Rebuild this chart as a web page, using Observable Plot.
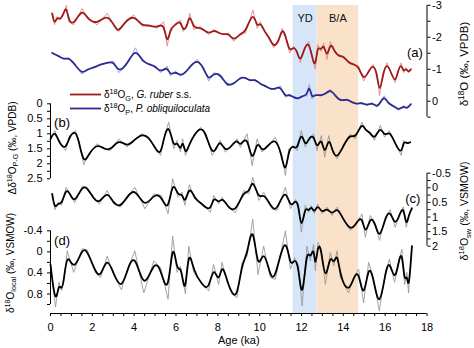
<!DOCTYPE html>
<html><head><meta charset="utf-8">
<script src="https://cdn.jsdelivr.net/npm/d3@7"></script>
<script src="https://cdn.jsdelivr.net/npm/@observablehq/plot@0.6"></script>
<style>
body{margin:0;background:#fff;}
#chart{position:relative;width:474px;height:348px;}
#chart svg{position:absolute;left:0;top:0;overflow:visible;}
</style></head><body><div id="chart"></div>
<script>
// ---- data: [age (ka), value] ----
const gRuber = [[0.08,-2.75],[0.19,-2.39],[0.32,-2.65],[0.44,-2.54],[0.61,-2.70],[0.76,-3.0],[0.87,-2.49],[1.11,-2.39],[1.51,-2.9],[1.75,-2.59],[2.23,-2.39],[2.71,-2.75],[3.11,-2.28],[3.26,-2.18],[3.58,-2.49],[3.98,-2.70],[4.38,-2.34],[4.70,-2.39],[5.10,-2.28],[5.41,-2.49],[5.58,-1.72],[5.73,-2.28],[5.97,-2.39],[6.21,-2.54],[6.34,-2.18],[6.53,-2.34],[6.66,-2.75],[6.85,-2.24],[7.17,-2.34],[7.56,-2.08],[7.80,-2.24],[8.04,-2.13],[8.28,-2.08],[8.52,-2.13],[8.76,-1.87],[9.08,-2.13],[9.32,-2.13],[9.68,-2.85],[9.88,-2.28],[10.03,-2.49],[10.22,-2.18],[10.43,-2.03],[10.67,-1.67],[10.91,-1.87],[11.07,-2.28],[11.23,-2.08],[11.43,-1.51],[11.62,-1.72],[11.79,-1.56],[11.94,-1.2],[12.14,-1.67],[12.34,-1.87],[12.50,-1.41],[12.66,-1.0],[12.77,-1.77],[12.93,-1.56],[13.06,-1.82],[13.22,-1.31],[13.38,-1.87],[13.57,-1.56],[13.77,-1.41],[14.01,-1.41],[14.25,-1.2],[14.49,-1.15],[14.73,-1.1],[14.97,-0.63],[15.21,-0.94],[15.42,-1.15],[15.61,-0.89],[15.73,-0.17],[15.90,-0.89],[16.09,-1.2],[16.28,-0.89],[16.48,-0.58],[16.59,-0.89],[16.76,-1.2],[16.88,-0.89],[16.99,-1.05],[17.12,-0.89],[17.23,-1.0]];
const pObliq = [[0.08,-1.51],[0.40,-1.41],[0.64,-1.31],[0.87,-1.36],[1.11,-1.2],[1.51,-0.84],[1.75,-1.0],[2.07,-1.05],[2.39,-1.15],[2.71,-1.2],[3.02,-1.25],[3.26,-0.89],[3.66,-1.15],[4.06,-1.67],[4.38,-1.25],[4.70,-1.15],[5.02,-1.1],[5.26,-0.89],[5.58,-1.1],[5.73,-0.79],[5.97,-0.94],[6.21,-0.79],[6.45,-0.89],[6.69,-1.1],[7.01,-1.31],[7.32,-1.05],[7.56,-0.63],[7.80,-0.89],[8.12,-0.84],[8.44,-0.48],[8.76,-0.53],[9.08,-0.75],[9.32,-0.74],[9.56,-0.63],[9.79,-0.69],[10.03,-0.53],[10.27,-0.48],[10.51,-0.38],[10.75,-0.38],[10.99,-0.48],[11.23,-0.12],[11.39,-0.22],[11.62,-0.12],[11.86,-0.07],[12.03,-0.17],[12.26,-0.17],[12.37,-0.53],[12.50,-0.07],[12.66,-0.22],[12.90,-0.17],[13.14,-0.22],[13.38,-0.38],[13.62,-0.17],[13.86,0.0],[14.18,-0.07],[14.41,0.04],[14.65,0.09],[14.89,0.04],[15.13,0.14],[15.37,0.04],[15.61,0.19],[15.77,0.04],[15.96,-0.17],[16.16,0.09],[16.40,0.14],[16.64,0.29],[16.88,0.14],[17.04,0.24],[17.23,0.09]];
const deltaPG = [[0.0,1.17],[0.21,0.89],[0.40,1.28],[0.72,1.56],[0.91,1.06],[1.19,0.89],[1.35,1.22],[1.59,2.03],[1.83,1.67],[2.23,1.33],[2.55,1.5],[2.87,1.56],[3.26,1.17],[3.66,1.44],[3.98,1.22],[4.38,1.0],[4.70,1.11],[5.02,1.5],[5.26,1.72],[5.41,1.17],[5.65,0.61],[5.89,1.5],[6.05,1.22],[6.21,1.61],[6.32,1.17],[6.45,1.72],[6.61,1.39],[6.85,1.06],[7.17,0.78],[7.41,0.95],[7.73,1.72],[7.96,1.44],[8.12,1.22],[8.36,1.61],[8.68,1.39],[8.92,1.17],[9.08,1.45],[9.40,1.0],[9.64,2.06],[9.88,1.17],[10.11,1.61],[10.35,1.44],[10.75,1.11],[11.04,1.67],[11.23,2.39],[11.39,1.5],[11.62,1.39],[11.79,1.56],[11.99,0.89],[12.18,1.44],[12.34,1.17],[12.58,1.0],[12.74,1.56],[12.95,1.06],[13.11,1.78],[13.30,1.06],[13.49,1.61],[13.70,1.83],[14.01,1.39],[14.33,1.0],[14.57,1.17],[14.89,0.61],[15.05,0.89],[15.29,0.95],[15.49,1.22],[15.77,0.72],[15.97,1.11],[16.20,0.89],[16.45,1.28],[16.77,1.72],[16.88,1.22],[17.04,1.33],[17.20,1.28]];
const d18Osw = [[0.08,0.21],[0.21,0.75],[0.37,0.49],[0.53,0.6],[0.75,-0.02],[0.96,0.26],[1.16,0.51],[1.51,-0.05],[1.75,-0.02],[2.07,0.38],[2.34,0.55],[2.71,0.09],[3.02,0.55],[3.34,0.66],[3.66,0.32],[4.03,-0.02],[4.51,0.72],[4.94,0.21],[5.30,0.26],[5.62,0.89],[5.84,-0.31],[6.10,0.32],[6.29,0.15],[6.42,0.6],[6.64,-0.1],[6.89,0.38],[7.25,0.55],[7.64,0.84],[7.80,0.26],[8.04,0.55],[8.20,0.32],[8.49,0.66],[8.84,0.85],[9.24,0.09],[9.48,0.21],[9.67,-0.36],[9.96,0.43],[10.19,0.15],[10.59,0.72],[10.83,0.78],[11.23,-0.02],[11.47,0.72],[11.71,0.4],[11.86,0.58],[11.99,1.52],[12.18,0.6],[12.34,0.84],[12.47,0.6],[12.61,0.89],[12.77,0.55],[12.98,0.89],[13.22,0.66],[13.46,0.95],[13.70,0.66],[13.94,1.0],[14.33,1.46],[14.57,1.29],[14.89,0.89],[15.05,1.69],[15.29,0.95],[15.53,1.23],[15.73,1.8],[16.01,1.0],[16.24,0.75],[16.48,1.35],[16.72,0.84],[16.88,0.65],[17.01,1.35],[17.12,0.95],[17.28,0.7]];
const d18Olocal = [[0.0,0.24],[0.24,1.05],[0.40,0.58],[0.53,0.74],[0.64,0.55],[0.80,-0.02],[1.11,0.39],[1.51,-0.06],[1.75,-0.04],[2.15,0.39],[2.39,0.49],[2.71,0.08],[3.02,0.43],[3.39,0.72],[3.66,0.36],[4.03,-0.02],[4.46,0.78],[4.94,0.17],[5.26,0.3],[5.62,0.9],[5.84,-0.3],[6.05,0.39],[6.21,0.27],[6.32,0.52],[6.45,0.8],[6.61,-0.11],[6.85,0.39],[7.25,0.62],[7.56,0.74],[7.80,0.24],[8.04,0.62],[8.20,0.2],[8.44,0.55],[8.68,0.8],[8.92,0.87],[9.16,0.2],[9.40,0.08],[9.67,-0.62],[9.92,0.43],[10.19,-0.11],[10.51,0.49],[10.75,0.52],[11.23,-0.4],[11.47,0.33],[11.67,0.11],[11.86,0.27],[12.03,1.03],[12.26,-0.11],[12.42,0.17],[12.58,-0.14],[12.66,0.36],[12.79,-0.18],[12.95,-0.05],[13.14,0.62],[13.38,0.01],[13.54,0.27],[13.70,-0.02],[13.86,0.49],[14.25,0.78],[14.49,0.49],[14.73,0.33],[14.97,0.97],[15.21,0.2],[15.45,0.52],[15.72,1.12],[16.01,0.39],[16.20,0.14],[16.45,0.58],[16.64,0.2],[16.80,-0.05],[16.93,0.62],[17.04,0.39],[17.12,0.78],[17.28,-0.11]];

const bandNames = ["YD", "B/A"];
const bandStart = [11.6, 12.75];
const bandEnd = [12.75, 14.73];
const bandFill = ["#d6e6f8", "#fae1c9"];

const xTickLabels = [0, 2, 4, 6, 8, 10, 12, 14, 16, 18];
const aTicks = [-3, -2.5, -2, -1.5, -1, -0.5, 0, 0.5], aLabels = [-3, -2, -1, 0];
const bTicks = [0, 0.25, 0.5, 0.75, 1, 1.25, 1.5, 1.75, 2, 2.25, 2.5], bLabels = [0, 0.5, 1, 1.5, 2, 2.5];
const cTicks = [-0.5, -0.25, 0, 0.25, 0.5, 0.75, 1, 1.25, 1.5, 1.75, 2], cLabels = [-0.5, 0, 0.5, 1, 1.5, 2];
const dTicks = [-0.4, -0.2, 0, 0.2, 0.4, 0.6, 0.8, 1.0], dLabels = [-0.4, 0, 0.4, 0.8];

// ---- layout ----
const W = 474, H = 348, ML = 50, MR = 47.5;
const FONT = "Arial, 'Liberation Sans', Helvetica, sans-serif";
const style = {background: "transparent", fontFamily: FONT, fontSize: "11px", color: "#000", overflow: "visible"};
const fmt = labels => d => labels.some(l => Math.abs(l - d) < 1e-9) ? String(d) : "";
const X = d => d[0], Y = d => d[1];

function layer(top, bottom, y, marks) {
  return Plot.plot({width: W, height: H, marginLeft: ML, marginRight: MR, marginTop: top, marginBottom: bottom,
    x: {domain: [0, 18], axis: null}, y, style, marks});
}
function series(data, thin, thick) {
  return [
    Plot.line(data, {x: X, y: Y, stroke: thin, strokeWidth: 0.9}),
    Plot.line(data, {x: X, y: Y, curve: "basis", stroke: thick, strokeWidth: 1.8})
  ];
}

const bands = bandNames.map((n, i) => ({name: n, s: bandStart[i], e: bandEnd[i], fill: bandFill[i]}));

const base = layer(5, 35, {domain: [0, 1], axis: null}, [
  Plot.rect(bands, {x1: "s", x2: "e", fill: "fill"}),
  Plot.text(bands, {x: d => (d.s + d.e) / 2, frameAnchor: "top", dy: 9, text: "name", fontSize: 11, fill: "#111"}),
  Plot.ruleY([0], {stroke: "#000"}),
  Plot.axisX({ticks: d3.range(0, 18.01, 0.5), tickFormat: fmt(xTickLabels), tickSize: 3, tickPadding: 7, label: null}),
  Plot.text(["Age (ka)"], {frameAnchor: "bottom", dy: 30, text: d => d, fontSize: 11})
]);

const pa = layer(4.8, H - 116.7, {domain: [-3, 0.5], reverse: true}, [
  ...series(gRuber, "#e08a8a", "#9e1b1b"),
  ...series(pObliq, "#9696e6", "#2c2c8e"),
  Plot.ruleX([18], {stroke: "#000"}),
  Plot.axisY({anchor: "right", ticks: aTicks, tickFormat: fmt(aLabels), tickSize: 3, tickPadding: 2, label: null}),
  Plot.text(["(a)"], {x: 17.42, y: -1.5, text: d => d, fontSize: 13})
]);

const pb = layer(103.3, H - 178.3, {domain: [0, 2.5], reverse: true}, [
  ...series(deltaPG, "#9a9a9a", "#000"),
  Plot.ruleX([0], {stroke: "#000"}),
  Plot.axisY({anchor: "left", ticks: bTicks, tickFormat: fmt(bLabels), tickSize: 3, tickPadding: 5, label: null}),
  Plot.text(["(b)"], {x: 0.55, y: 0.62, text: d => d, fontSize: 13})
]);

const pc = layer(172.7, H - 245.7, {domain: [-0.5, 2], reverse: true}, [
  ...series(d18Osw, "#9a9a9a", "#000"),
  Plot.ruleX([18], {stroke: "#000"}),
  Plot.axisY({anchor: "right", ticks: cTicks, tickFormat: fmt(cLabels), tickSize: 3, tickPadding: 2, label: null}),
  Plot.text(["(c)"], {x: 17.32, y: 0.37, text: d => d, fontSize: 13})
]);

const pd = layer(230.3, H - 304, {domain: [-0.4, 1.0], reverse: true}, [
  ...series(d18Olocal, "#9a9a9a", "#000"),
  Plot.ruleX([0], {stroke: "#000"}),
  Plot.axisY({anchor: "left", ticks: dTicks, tickFormat: fmt(dLabels), tickSize: 3, tickPadding: 5, label: null}),
  Plot.text(["(d)"], {x: 0.55, y: -0.21, text: d => d, fontSize: 13})
]);

const chart = document.getElementById("chart");
[base, pa, pb, pc, pd].forEach(p => chart.appendChild(p));

// ---- rich text (titles and legend) ----
const ov = d3.select(chart).append("svg").attr("width", W).attr("height", H)
  .style("font-family", FONT).style("background", "transparent");
function rich(x, y, parts, size, anchor, rotate) {
  const t = ov.append("text").attr("x", x).attr("y", y).attr("font-size", size)
    .attr("text-anchor", anchor).attr("fill", "#000");
  if (rotate) t.attr("transform", `rotate(${rotate} ${x} ${y})`);
  let shift = 0;
  for (const p of parts) {
    const target = p.sup ? -0.38 * size : p.sub ? 0.28 * size : 0;
    const ts = t.append("tspan").text(p.t).attr("dy", target - shift);
    if (p.sup || p.sub) ts.attr("font-size", size * 0.72);
    if (p.it) ts.attr("font-style", "italic");
    shift = target;
  }
}
rich(464 + 4, 64, [{t: "δ"}, {t: "18", sup: 1}, {t: "O (‰, VPDB)"}], 11.5, "middle", -90);
rich(464 + 4, 211, [{t: "δ"}, {t: "18", sup: 1}, {t: "O"}, {t: "sw", sub: 1}, {t: " (‰, VSMOW)"}], 10.5, "middle", -90);
rich(12 + 3.5, 148, [{t: "Δδ"}, {t: "18", sup: 1}, {t: "O"}, {t: "P-G", sub: 1}, {t: " (‰, VPDB)"}], 10, "middle", -90);
rich(10 + 3.5, 263, [{t: "δ"}, {t: "18", sup: 1}, {t: "O"}, {t: "local", sub: 1}, {t: " (‰, VSMOW)"}], 10, "middle", -90);

// legend
ov.append("line").attr("x1", 70).attr("x2", 101).attr("y1", 94.5).attr("y2", 94.5).attr("stroke", "#9e1b1b").attr("stroke-width", 1.8);
ov.append("line").attr("x1", 70).attr("x2", 101).attr("y1", 108.5).attr("y2", 108.5).attr("stroke", "#2c2c8e").attr("stroke-width", 1.8);
rich(104, 98, [{t: "δ"}, {t: "18", sup: 1}, {t: "O"}, {t: "G", sub: 1}, {t: ", "}, {t: "G. ruber", it: 1}, {t: " s.s."}], 10, "start");
rich(104, 112, [{t: "δ"}, {t: "18", sup: 1}, {t: "O"}, {t: "P", sub: 1}, {t: ", "}, {t: "P. obliquiloculata", it: 1}], 10, "start");
</script></body></html>
